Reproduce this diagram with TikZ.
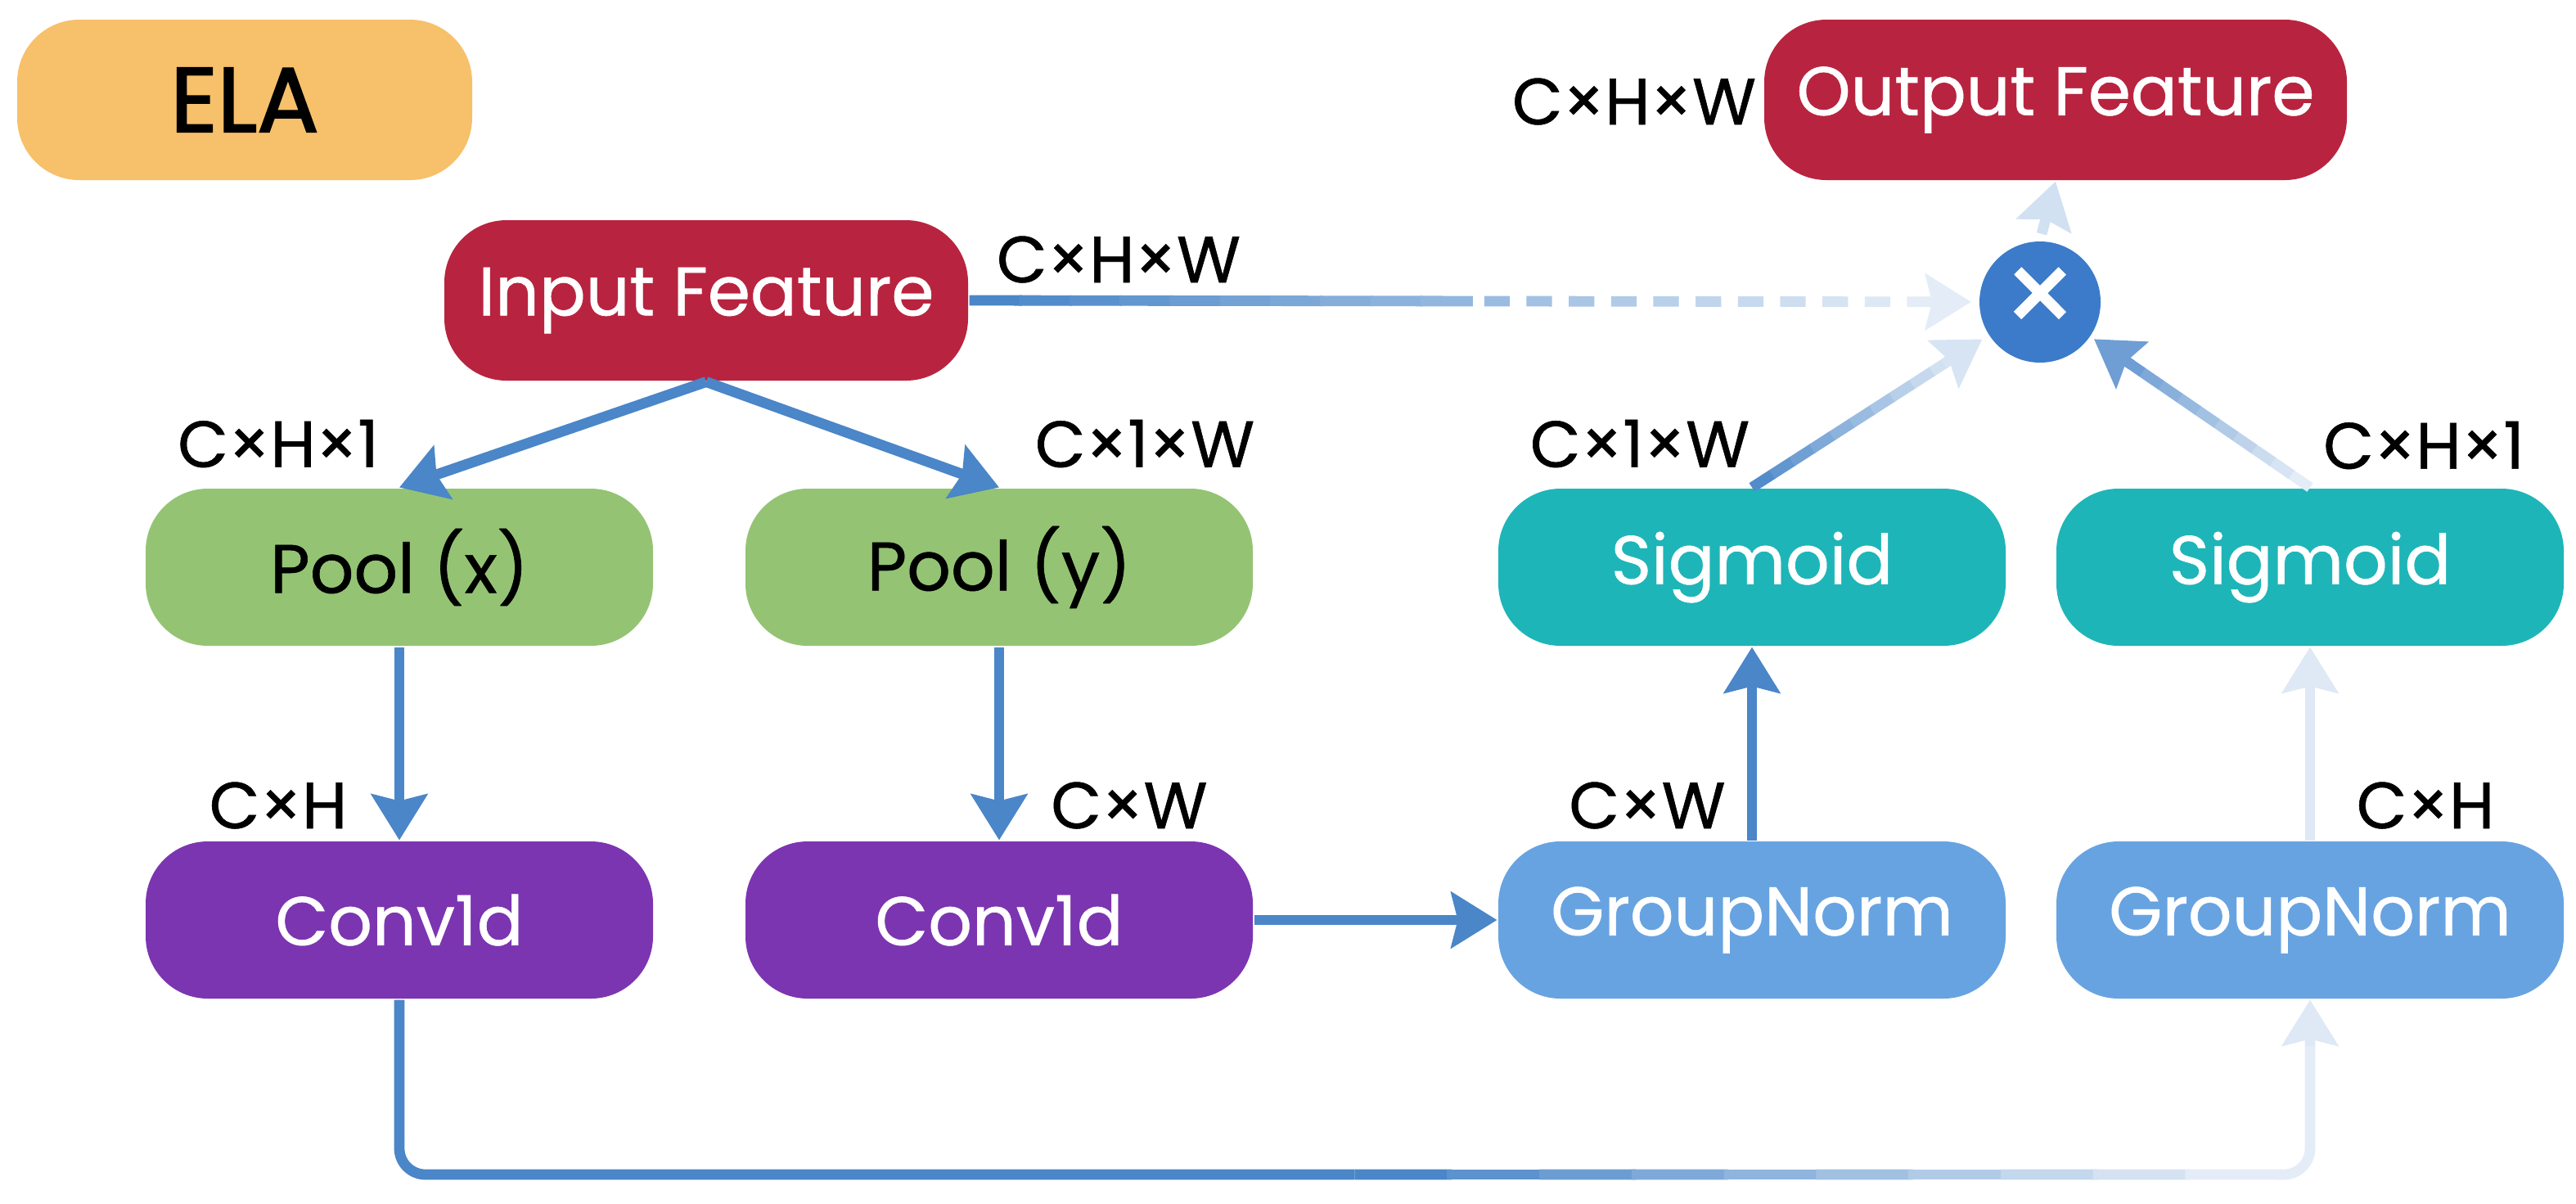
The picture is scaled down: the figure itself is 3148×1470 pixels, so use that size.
\documentclass[tikz,border=0pt]{standalone}
\usepackage{fontspec}
\setmainfont{Poppins}[FakeBold=0.7]
\newfontface\elafont{Poppins}[FakeBold=2]
\usetikzlibrary{arrows.meta,calc}

\definecolor{elaorange}{HTML}{F7C06A}
\definecolor{featred}{HTML}{B8243F}
\definecolor{poolgreen}{HTML}{94C473}
\definecolor{convpurple}{HTML}{7C35B1}
\definecolor{sigteal}{HTML}{1EB5B8}
\definecolor{normblue}{HTML}{68A3E1}
\definecolor{flow}{HTML}{4A86C8}
\definecolor{mulblue}{HTML}{3C7BCA}

\tikzset{every picture/.style={line width=0.75pt}}
\tikzset{
  blk/.style={rounded corners=19pt, minimum width=155pt, minimum height=48pt, inner sep=0pt, font=\fontsize{21}{25}\selectfont},
  dimlbl/.style={inner sep=0pt, font=\fontsize{20}{24}\selectfont},
  flowline/.style={line width=3.2pt, draw=flow},
  flowhead/.style={line width=3.2pt, -{Stealth[length=14pt,width=17pt,inset=2pt]}},
}

% line that goes lighter (or darker) from #1 to #2
\newcommand{\fadeline}[4]{%
  \foreach \k [evaluate=\k as \pc using int(#3+(#4-#3)*\k/9)] in {0,...,9}
    \draw[line width=3.2pt, draw=flow!\pc] ($(#1)!\k/10!(#2)$) -- ($(#1)!\k/10+0.105!(#2)$);
}

\begin{document}
\begin{tikzpicture}[x=0.25pt,y=0.25pt,yscale=-1]
\useasboundingbox (0,0) rectangle (3148,1470);

%Shape: Title
\node[blk, fill=elaorange, minimum width=139pt, minimum height=49pt, font=\fontsize{28}{32}\elafont] (ela) at (299,122) {ELA};
%Shape: Input / Output
\node[blk, fill=featred, text=white, minimum width=160pt, minimum height=49pt] (inp) at (863,367) {Input Feature};
\node[blk, fill=featred, text=white, minimum width=178pt, minimum height=49pt] (out) at (2512,122) {Output Feature};
%Shape: Multiply
\node[circle, fill=mulblue, text=white, minimum size=37pt, inner sep=0pt, font=\fontsize{36}{36}\selectfont] (mul) at (2493,369) {×};
%Shape: Pool / Sigmoid row
\node[blk, fill=poolgreen] (poolx) at (488,693) {Pool (x)};
\node[blk, fill=poolgreen] (pooly) at (1221,693) {Pool (y)};
\node[blk, fill=sigteal, text=white] (sigw) at (2141,693) {Sigmoid};
\node[blk, fill=sigteal, text=white] (sigh) at (2823,693) {Sigmoid};
%Shape: Conv1d / GroupNorm row
\node[blk, fill=convpurple, text=white] (convx) at (488,1124) {Conv1d};
\node[blk, fill=convpurple, text=white] (convy) at (1221,1124) {Conv1d};
\node[blk, fill=normblue, text=white] (gnw) at (2141,1124) {GroupNorm};
\node[blk, fill=normblue, text=white] (gnh) at (2823,1124) {GroupNorm};

% Text Node
\node[dimlbl] (dinp) at (1367,317) {C×H×W};
% Text Node
\node[dimlbl] (dout) at (1997,124) {C×H×W};
% Text Node
\node[dimlbl] (dpx) at (340,542) {C×H×1};
% Text Node
\node[dimlbl] (dpy) at (1399,542) {C×1×W};
% Text Node
\node[dimlbl] (dsw) at (2004,542) {C×1×W};
% Text Node
\node[dimlbl] (dsh) at (2962,544) {C×H×1};
% Text Node
\node[dimlbl] (dcx) at (340,984) {C×H};
% Text Node
\node[dimlbl] (dcy) at (1380,984) {C×W};
% Text Node
\node[dimlbl] (dgw) at (2013,984) {C×W};
% Text Node
\node[dimlbl] (dgh) at (2964,984) {C×H};

%Straight Lines
\draw[flowline, flowhead] (inp.south) -- (poolx.north);
\draw[flowline, flowhead] (inp.south) -- (pooly.north);
\draw[flowline, flowhead] (poolx.south) -- (convx.north);
\draw[flowline, flowhead] (pooly.south) -- (convy.north);
\draw[flowline, flowhead] (convy.east) -- (gnw.west);
\draw[flowline, flowhead] (gnw.north) -- (sigw.south);
\draw[flowhead, draw=flow!18] (gnh.north) -- (sigh.south);
\draw[flowhead, draw=flow!25, shorten <=2pt] (mul.north) -- (out.south);

%Faded Lines: input skip to multiply
\coordinate (tipi) at ($(mul.center)!21pt!(inp.east)$);
\coordinate (basei) at ($(tipi)!11pt!(inp.east)$);
\coordinate (dashs) at ($(inp.east)!0.5!(tipi)$);
\fadeline{inp.east}{dashs}{100}{60}
\foreach \k [evaluate=\k as \pc using int(55-4*\k)] in {0,...,10}
  \draw[line width=3.2pt, draw=flow!\pc] ($(dashs)!\k/11+0.03!(basei)$) -- ($(dashs)!\k/11+0.085!(basei)$);
\draw[flowhead, draw=flow!15] ($(tipi)!14pt!(inp.east)$) -- (tipi);

%Faded Lines: sigmoids to multiply
\coordinate (tipw) at ($(mul.center)!21pt!(sigw.north)$);
\coordinate (basew) at ($(tipw)!11pt!(sigw.north)$);
\fadeline{sigw.north}{basew}{95}{25}
\draw[flowhead, draw=flow!22] ($(tipw)!14pt!(sigw.north)$) -- (tipw);
\coordinate (tiph) at ($(mul.center)!20pt!(sigh.north)$);
\coordinate (baseh) at ($(tiph)!11pt!(sigh.north)$);
\fadeline{sigh.north}{baseh}{15}{80}
\draw[flowhead, draw=flow!80] ($(tiph)!14pt!(sigh.north)$) -- (tiph);

%Faded Lines: Conv1d (x) round to GroupNorm
\coordinate (floor) at (0,1435);
\coordinate (lowl) at (convx.south |- floor);
\coordinate (lowr) at (gnh.south |- floor);
\coordinate (lowm) at ($(lowl)!0.5!(lowr)$);
\coordinate (lowe) at ($(lowr)!10pt!(lowl)$);
\coordinate (baseg) at ($(gnh.south)!11pt!(lowr)$);
\draw[flowline, rounded corners=8pt] (convx.south) -- (lowl) -- (lowm);
\fadeline{lowm}{lowe}{100}{15}
\draw[line width=3.2pt, draw=flow!15, rounded corners=8pt] (lowe) -- (lowr) -- (baseg);
\draw[flowhead, draw=flow!18] ($(gnh.south)!14pt!(lowr)$) -- (gnh.south);

\end{tikzpicture}
\end{document}
